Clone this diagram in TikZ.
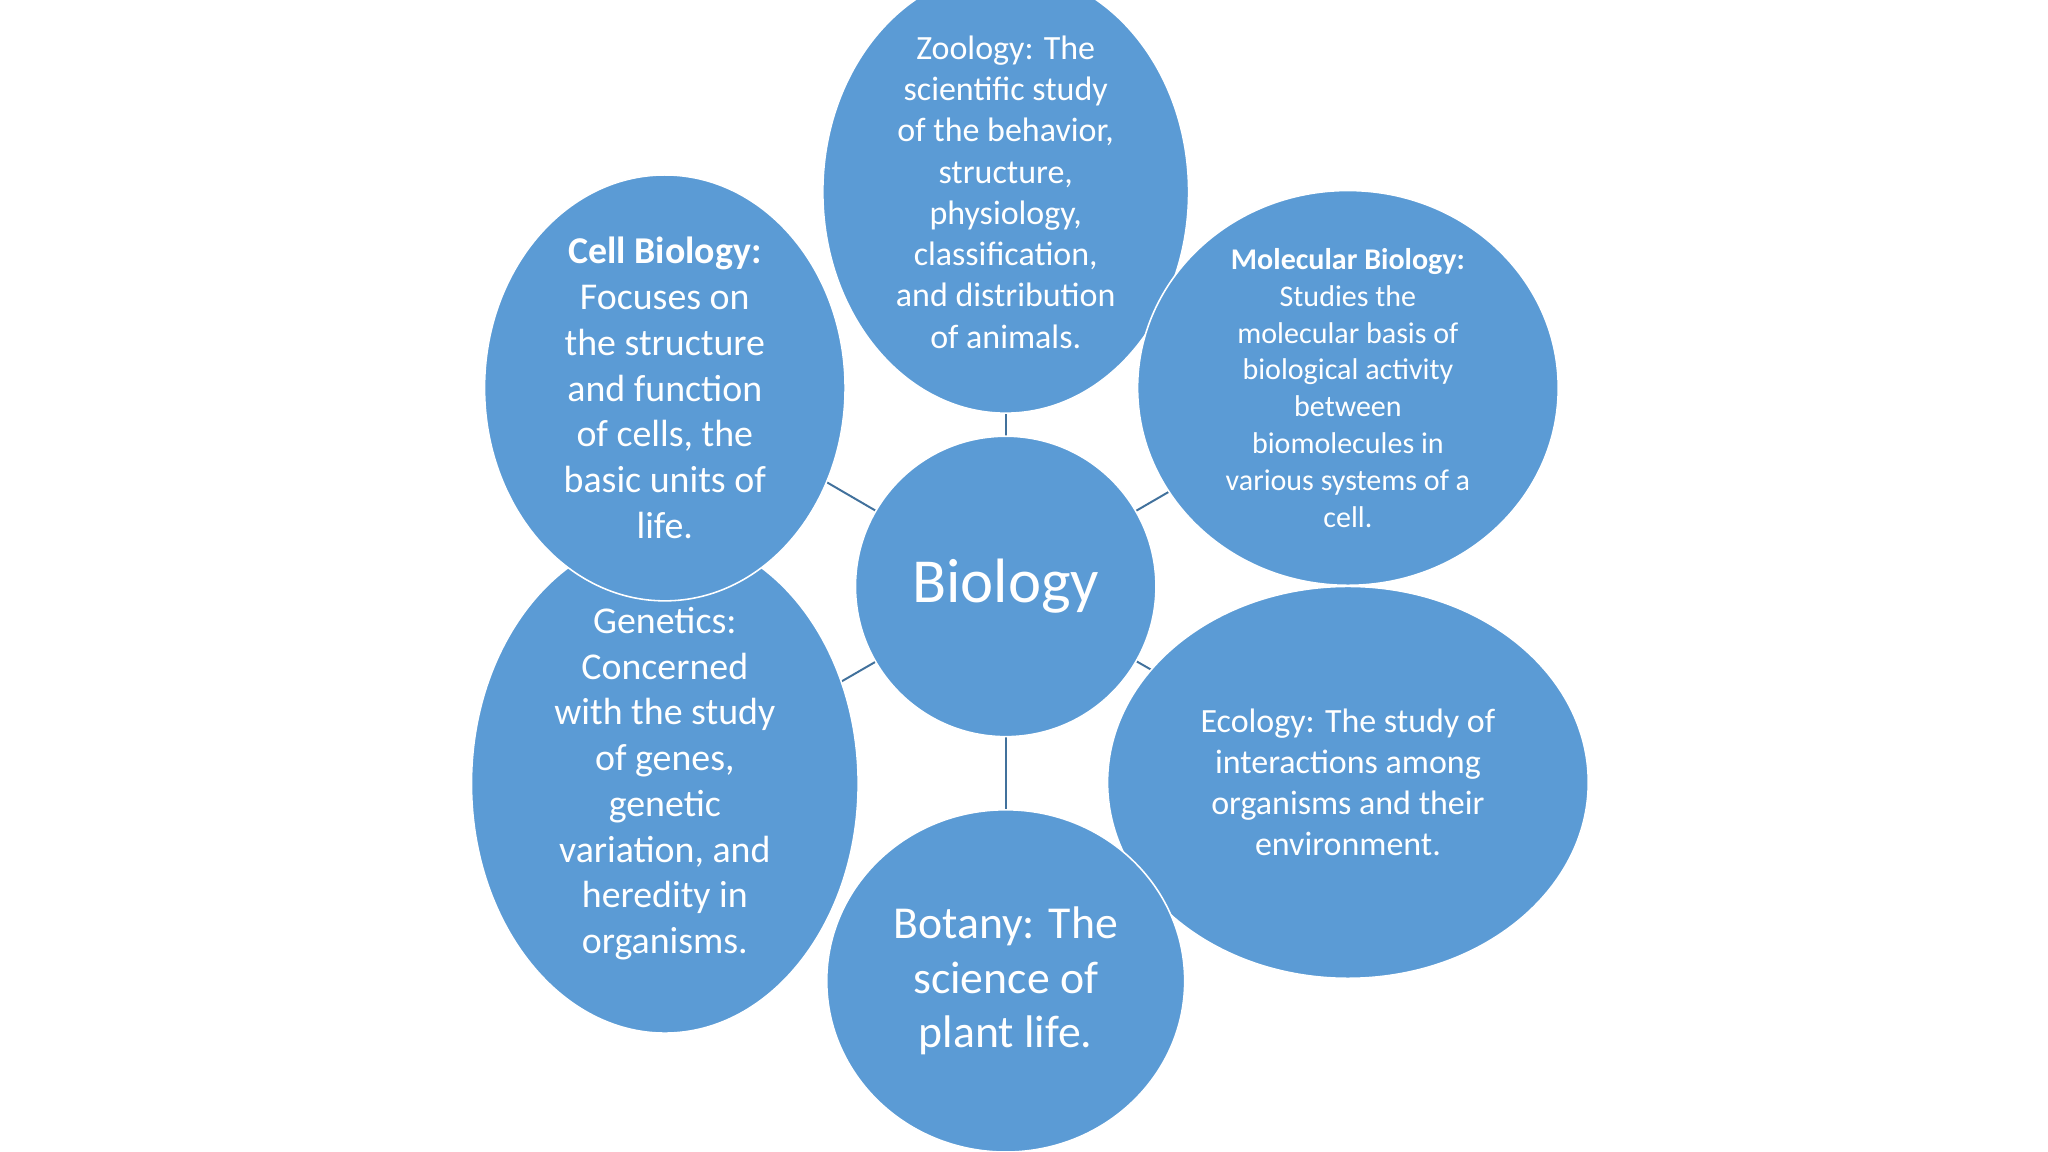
\documentclass[tikz,border=0pt]{standalone}
\usepackage{fontspec}
\setmainfont{Carlito}
\usetikzlibrary{shapes.geometric}
\definecolor{bub}{HTML}{5B9BD5}
\definecolor{lnk}{HTML}{41719C}
\tikzset{
 bubble/.style={ellipse,fill=bub,draw=white,line width=1.2pt,text=white,align=center,inner sep=0pt},
 link/.style={draw=lnk,line width=1.5pt}
}
\begin{document}
\begin{tikzpicture}[x=1pt,y=-1pt]
\useasboundingbox (0,0) rectangle (1568,882);
\fill[white] (0,0) rectangle (1568,882);
\coordinate (c) at (770,449);
\coordinate (pz) at (770,147);
\coordinate (pm) at (1032,297);
\coordinate (pe) at (1032,599);
\coordinate (pb) at (770,751);
\coordinate (pg) at (509,600);
\coordinate (pc) at (509,297);
\draw[link] (c) -- (pz);
\draw[link] (c) -- (pm);
\draw[link] (c) -- (pe);
\draw[link] (c) -- (pb);
\draw[link] (c) -- (pg);
\draw[link] (c) -- (pc);
\node[bubble,minimum width=296pt,minimum height=344pt,font=\fontsize{29}{35}\selectfont] (gen) at (pg) {Genetics:\\Concerned\\with the study\\of genes,\\genetic\\variation, and\\heredity in\\organisms.};
\node[bubble,minimum width=276pt,minimum height=286pt,font=\fontsize{29}{35}\selectfont] (cell) at (pc) {\textbf{Cell Biology:}\\Focuses on\\the structure\\and function\\of cells, the\\basic units of\\life.};
\node[bubble,minimum width=280pt,minimum height=294pt,font=\fontsize{26}{31.6}\selectfont] (zoo) at (pz) {Zoology: The\\scientific study\\of the behavior,\\structure,\\physiology,\\classification,\\and distribution\\of animals.};
\node[bubble,minimum width=322pt,minimum height=282pt,font=\fontsize{23}{28.2}\selectfont] (mol) at (pm) {\textbf{Molecular Biology:}\\Studies the\\molecular basis of\\biological activity\\between\\biomolecules in\\various systems of a\\cell.};
\node[bubble,minimum width=368pt,minimum height=300pt,font=\fontsize{26}{31.6}\selectfont] (eco) at (pe) {Ecology: The study of\\interactions among\\organisms and their\\environment.};
\node[bubble,minimum width=274pt,minimum height=262pt,font=\fontsize{35}{42}\selectfont] (bot) at (pb) {Botany: The\\science of\\plant life.};
\node[bubble,minimum width=230pt,minimum height=230pt,font=\fontsize{48}{56}\selectfont] (bio) at (c) {Biology};
\end{tikzpicture}
\end{document}
